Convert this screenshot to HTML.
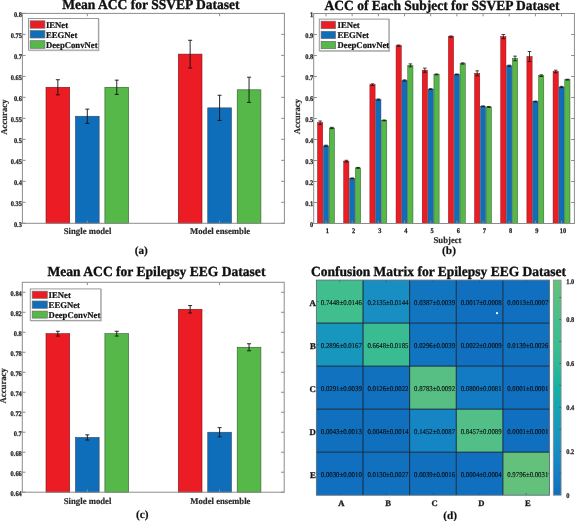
<!DOCTYPE html>
<html><head><meta charset="utf-8"><title>Figure</title>
<style>
html,body{margin:0;padding:0;background:#fff;}
body{width:575px;height:521px;overflow:hidden;}
svg{display:block;text-rendering:geometricPrecision;font-family:"Liberation Serif","Times New Roman",serif;}
</style></head>
<body>
<svg width="575" height="521" viewBox="0 0 575 521">
<rect width="575" height="521" fill="#fff"/>
<rect x="46.00" y="87.28" width="23.70" height="136.02" fill="#ec1c24" stroke="#7a1418" stroke-width="0.6"/>
<rect x="75.45" y="116.25" width="23.70" height="107.05" fill="#0f6eb9" stroke="#33475a" stroke-width="0.6"/>
<rect x="104.90" y="87.28" width="23.70" height="136.02" fill="#55b848" stroke="#35572f" stroke-width="0.6"/>
<rect x="178.30" y="54.12" width="23.70" height="169.18" fill="#ec1c24" stroke="#7a1418" stroke-width="0.6"/>
<rect x="207.75" y="107.86" width="23.70" height="115.44" fill="#0f6eb9" stroke="#33475a" stroke-width="0.6"/>
<rect x="237.20" y="89.80" width="23.70" height="133.50" fill="#55b848" stroke="#35572f" stroke-width="0.6"/>
<path d="M57.85 79.73V94.84M55.85 79.73H59.85M55.85 94.84H59.85" stroke="#111" stroke-width="0.9" fill="none"/>
<path d="M87.30 109.11V123.39M85.30 109.11H89.30M85.30 123.39H89.30" stroke="#111" stroke-width="0.9" fill="none"/>
<path d="M116.75 80.15V94.42M114.75 80.15H118.75M114.75 94.42H118.75" stroke="#111" stroke-width="0.9" fill="none"/>
<path d="M190.15 40.27V67.97M188.15 40.27H192.15M188.15 67.97H192.15" stroke="#111" stroke-width="0.9" fill="none"/>
<path d="M219.60 95.26V120.45M217.60 95.26H221.60M217.60 120.45H221.60" stroke="#111" stroke-width="0.9" fill="none"/>
<path d="M249.05 77.21V102.40M247.05 77.21H251.05M247.05 102.40H251.05" stroke="#111" stroke-width="0.9" fill="none"/>
<rect x="22.40" y="13.40" width="262.00" height="209.90" fill="none" stroke="#8c8c8c" stroke-width="1"/>
<line x1="22.40" y1="223.30" x2="25.60" y2="223.30" stroke="#8c8c8c" stroke-width="1.0"/>
<line x1="284.40" y1="223.30" x2="281.20" y2="223.30" stroke="#8c8c8c" stroke-width="1.0"/>
<text x="21.90" y="226.60" font-size="7.1" text-anchor="end" font-weight="bold" fill="#262626" stroke="#262626" stroke-width="0.25" textLength="8.00" lengthAdjust="spacingAndGlyphs" >0.3</text>
<line x1="22.40" y1="202.31" x2="25.60" y2="202.31" stroke="#8c8c8c" stroke-width="1.0"/>
<line x1="284.40" y1="202.31" x2="281.20" y2="202.31" stroke="#8c8c8c" stroke-width="1.0"/>
<text x="21.90" y="205.61" font-size="7.1" text-anchor="end" font-weight="bold" fill="#262626" stroke="#262626" stroke-width="0.25" textLength="11.20" lengthAdjust="spacingAndGlyphs" >0.35</text>
<line x1="22.40" y1="181.32" x2="25.60" y2="181.32" stroke="#8c8c8c" stroke-width="1.0"/>
<line x1="284.40" y1="181.32" x2="281.20" y2="181.32" stroke="#8c8c8c" stroke-width="1.0"/>
<text x="21.90" y="184.62" font-size="7.1" text-anchor="end" font-weight="bold" fill="#262626" stroke="#262626" stroke-width="0.25" textLength="8.00" lengthAdjust="spacingAndGlyphs" >0.4</text>
<line x1="22.40" y1="160.33" x2="25.60" y2="160.33" stroke="#8c8c8c" stroke-width="1.0"/>
<line x1="284.40" y1="160.33" x2="281.20" y2="160.33" stroke="#8c8c8c" stroke-width="1.0"/>
<text x="21.90" y="163.63" font-size="7.1" text-anchor="end" font-weight="bold" fill="#262626" stroke="#262626" stroke-width="0.25" textLength="11.20" lengthAdjust="spacingAndGlyphs" >0.45</text>
<line x1="22.40" y1="139.34" x2="25.60" y2="139.34" stroke="#8c8c8c" stroke-width="1.0"/>
<line x1="284.40" y1="139.34" x2="281.20" y2="139.34" stroke="#8c8c8c" stroke-width="1.0"/>
<text x="21.90" y="142.64" font-size="7.1" text-anchor="end" font-weight="bold" fill="#262626" stroke="#262626" stroke-width="0.25" textLength="8.00" lengthAdjust="spacingAndGlyphs" >0.5</text>
<line x1="22.40" y1="118.35" x2="25.60" y2="118.35" stroke="#8c8c8c" stroke-width="1.0"/>
<line x1="284.40" y1="118.35" x2="281.20" y2="118.35" stroke="#8c8c8c" stroke-width="1.0"/>
<text x="21.90" y="121.65" font-size="7.1" text-anchor="end" font-weight="bold" fill="#262626" stroke="#262626" stroke-width="0.25" textLength="11.20" lengthAdjust="spacingAndGlyphs" >0.55</text>
<line x1="22.40" y1="97.36" x2="25.60" y2="97.36" stroke="#8c8c8c" stroke-width="1.0"/>
<line x1="284.40" y1="97.36" x2="281.20" y2="97.36" stroke="#8c8c8c" stroke-width="1.0"/>
<text x="21.90" y="100.66" font-size="7.1" text-anchor="end" font-weight="bold" fill="#262626" stroke="#262626" stroke-width="0.25" textLength="8.00" lengthAdjust="spacingAndGlyphs" >0.6</text>
<line x1="22.40" y1="76.37" x2="25.60" y2="76.37" stroke="#8c8c8c" stroke-width="1.0"/>
<line x1="284.40" y1="76.37" x2="281.20" y2="76.37" stroke="#8c8c8c" stroke-width="1.0"/>
<text x="21.90" y="79.67" font-size="7.1" text-anchor="end" font-weight="bold" fill="#262626" stroke="#262626" stroke-width="0.25" textLength="11.20" lengthAdjust="spacingAndGlyphs" >0.65</text>
<line x1="22.40" y1="55.38" x2="25.60" y2="55.38" stroke="#8c8c8c" stroke-width="1.0"/>
<line x1="284.40" y1="55.38" x2="281.20" y2="55.38" stroke="#8c8c8c" stroke-width="1.0"/>
<text x="21.90" y="58.68" font-size="7.1" text-anchor="end" font-weight="bold" fill="#262626" stroke="#262626" stroke-width="0.25" textLength="8.00" lengthAdjust="spacingAndGlyphs" >0.7</text>
<line x1="22.40" y1="34.39" x2="25.60" y2="34.39" stroke="#8c8c8c" stroke-width="1.0"/>
<line x1="284.40" y1="34.39" x2="281.20" y2="34.39" stroke="#8c8c8c" stroke-width="1.0"/>
<text x="21.90" y="37.69" font-size="7.1" text-anchor="end" font-weight="bold" fill="#262626" stroke="#262626" stroke-width="0.25" textLength="11.20" lengthAdjust="spacingAndGlyphs" >0.75</text>
<line x1="22.40" y1="13.40" x2="25.60" y2="13.40" stroke="#8c8c8c" stroke-width="1.0"/>
<line x1="284.40" y1="13.40" x2="281.20" y2="13.40" stroke="#8c8c8c" stroke-width="1.0"/>
<text x="21.90" y="16.70" font-size="7.1" text-anchor="end" font-weight="bold" fill="#262626" stroke="#262626" stroke-width="0.25" textLength="8.00" lengthAdjust="spacingAndGlyphs" >0.8</text>
<line x1="87.30" y1="13.40" x2="87.30" y2="16.20" stroke="#8c8c8c" stroke-width="1.0"/>
<line x1="87.30" y1="223.30" x2="87.30" y2="220.50" stroke="#8c8c8c" stroke-width="1.0"/>
<line x1="219.60" y1="13.40" x2="219.60" y2="16.20" stroke="#8c8c8c" stroke-width="1.0"/>
<line x1="219.60" y1="223.30" x2="219.60" y2="220.50" stroke="#8c8c8c" stroke-width="1.0"/>
<text x="150.90" y="9.20" font-size="13.9" text-anchor="middle" font-weight="bold" fill="#111" stroke="#111" stroke-width="0.35" textLength="177.40" lengthAdjust="spacingAndGlyphs" >Mean ACC for SSVEP Dataset</text>
<rect x="29.10" y="19.10" width="69.90" height="31.60" fill="none" stroke="#c8c8c8" stroke-width="1"/>
<rect x="28.50" y="18.50" width="69.90" height="31.60" fill="#fff" stroke="#9a9a9a" stroke-width="1"/>
<rect x="30.10" y="20.80" width="14.80" height="7.40" fill="#ec1c24" stroke="#6a6a6a" stroke-width="0.7"/>
<text x="45.90" y="27.80" font-size="8.9" text-anchor="start" font-weight="bold" fill="#111" stroke="#111" stroke-width="0.2" textLength="22.23" lengthAdjust="spacingAndGlyphs" >IENet</text>
<rect x="30.10" y="30.60" width="14.80" height="7.40" fill="#0f6eb9" stroke="#6a6a6a" stroke-width="0.7"/>
<text x="45.90" y="37.80" font-size="8.9" text-anchor="start" font-weight="bold" fill="#111" stroke="#111" stroke-width="0.2" textLength="31.41" lengthAdjust="spacingAndGlyphs" >EEGNet</text>
<rect x="30.10" y="40.70" width="14.80" height="7.60" fill="#55b848" stroke="#6a6a6a" stroke-width="0.7"/>
<text x="45.90" y="47.80" font-size="8.9" text-anchor="start" font-weight="bold" fill="#111" stroke="#111" stroke-width="0.2" textLength="51.71" lengthAdjust="spacingAndGlyphs" >DeepConvNet</text>
<text x="87.60" y="233.70" font-size="8.9" text-anchor="middle" font-weight="bold" fill="#2a2a2a" stroke="#2a2a2a" stroke-width="0.18" textLength="47.61" lengthAdjust="spacingAndGlyphs" >Single model</text>
<text x="220.10" y="233.70" font-size="8.9" text-anchor="middle" font-weight="bold" fill="#2a2a2a" stroke="#2a2a2a" stroke-width="0.18" textLength="60.17" lengthAdjust="spacingAndGlyphs" >Model ensemble</text>
<text x="6.90" y="117.10" font-size="8.9" text-anchor="middle" font-weight="bold" fill="#2a2a2a" stroke="#2a2a2a" stroke-width="0.18" textLength="35.27" lengthAdjust="spacingAndGlyphs" transform="rotate(-90 6.9 117.1)">Accuracy</text>
<text x="141.30" y="253.90" font-size="11.2" text-anchor="middle" font-weight="bold" fill="#111" stroke="#111" stroke-width="0.2" textLength="13.18" lengthAdjust="spacingAndGlyphs" >(a)</text>
<rect x="46.00" y="333.68" width="23.70" height="158.52" fill="#ec1c24" stroke="#7a1418" stroke-width="0.6"/>
<rect x="75.45" y="437.43" width="23.70" height="54.77" fill="#0f6eb9" stroke="#33475a" stroke-width="0.6"/>
<rect x="104.90" y="333.68" width="23.70" height="158.52" fill="#55b848" stroke="#35572f" stroke-width="0.6"/>
<rect x="178.30" y="309.29" width="23.70" height="182.91" fill="#ec1c24" stroke="#7a1418" stroke-width="0.6"/>
<rect x="207.75" y="432.23" width="23.70" height="59.97" fill="#0f6eb9" stroke="#33475a" stroke-width="0.6"/>
<rect x="237.20" y="347.27" width="23.70" height="144.93" fill="#55b848" stroke="#35572f" stroke-width="0.6"/>
<path d="M57.85 331.28V336.07M55.85 331.28H59.85M55.85 336.07H59.85" stroke="#111" stroke-width="0.9" fill="none"/>
<path d="M87.30 434.83V440.02M85.30 434.83H89.30M85.30 440.02H89.30" stroke="#111" stroke-width="0.9" fill="none"/>
<path d="M116.75 331.28V336.07M114.75 331.28H118.75M114.75 336.07H118.75" stroke="#111" stroke-width="0.9" fill="none"/>
<path d="M190.15 305.59V312.99M188.15 305.59H192.15M188.15 312.99H192.15" stroke="#111" stroke-width="0.9" fill="none"/>
<path d="M219.60 427.63V436.83M217.60 427.63H221.60M217.60 436.83H221.60" stroke="#111" stroke-width="0.9" fill="none"/>
<path d="M249.05 343.77V350.77M247.05 343.77H251.05M247.05 350.77H251.05" stroke="#111" stroke-width="0.9" fill="none"/>
<rect x="22.30" y="282.30" width="261.90" height="209.90" fill="none" stroke="#8c8c8c" stroke-width="1"/>
<line x1="22.30" y1="492.20" x2="25.50" y2="492.20" stroke="#8c8c8c" stroke-width="1.0"/>
<line x1="284.20" y1="492.20" x2="281.00" y2="492.20" stroke="#8c8c8c" stroke-width="1.0"/>
<text x="21.80" y="495.50" font-size="7.1" text-anchor="end" font-weight="bold" fill="#262626" stroke="#262626" stroke-width="0.25" textLength="11.20" lengthAdjust="spacingAndGlyphs" >0.64</text>
<line x1="22.30" y1="472.21" x2="25.50" y2="472.21" stroke="#8c8c8c" stroke-width="1.0"/>
<line x1="284.20" y1="472.21" x2="281.00" y2="472.21" stroke="#8c8c8c" stroke-width="1.0"/>
<text x="21.80" y="475.51" font-size="7.1" text-anchor="end" font-weight="bold" fill="#262626" stroke="#262626" stroke-width="0.25" textLength="11.20" lengthAdjust="spacingAndGlyphs" >0.66</text>
<line x1="22.30" y1="452.22" x2="25.50" y2="452.22" stroke="#8c8c8c" stroke-width="1.0"/>
<line x1="284.20" y1="452.22" x2="281.00" y2="452.22" stroke="#8c8c8c" stroke-width="1.0"/>
<text x="21.80" y="455.52" font-size="7.1" text-anchor="end" font-weight="bold" fill="#262626" stroke="#262626" stroke-width="0.25" textLength="11.20" lengthAdjust="spacingAndGlyphs" >0.68</text>
<line x1="22.30" y1="432.23" x2="25.50" y2="432.23" stroke="#8c8c8c" stroke-width="1.0"/>
<line x1="284.20" y1="432.23" x2="281.00" y2="432.23" stroke="#8c8c8c" stroke-width="1.0"/>
<text x="21.80" y="435.53" font-size="7.1" text-anchor="end" font-weight="bold" fill="#262626" stroke="#262626" stroke-width="0.25" textLength="8.00" lengthAdjust="spacingAndGlyphs" >0.7</text>
<line x1="22.30" y1="412.24" x2="25.50" y2="412.24" stroke="#8c8c8c" stroke-width="1.0"/>
<line x1="284.20" y1="412.24" x2="281.00" y2="412.24" stroke="#8c8c8c" stroke-width="1.0"/>
<text x="21.80" y="415.54" font-size="7.1" text-anchor="end" font-weight="bold" fill="#262626" stroke="#262626" stroke-width="0.25" textLength="11.20" lengthAdjust="spacingAndGlyphs" >0.72</text>
<line x1="22.30" y1="392.25" x2="25.50" y2="392.25" stroke="#8c8c8c" stroke-width="1.0"/>
<line x1="284.20" y1="392.25" x2="281.00" y2="392.25" stroke="#8c8c8c" stroke-width="1.0"/>
<text x="21.80" y="395.55" font-size="7.1" text-anchor="end" font-weight="bold" fill="#262626" stroke="#262626" stroke-width="0.25" textLength="11.20" lengthAdjust="spacingAndGlyphs" >0.74</text>
<line x1="22.30" y1="372.26" x2="25.50" y2="372.26" stroke="#8c8c8c" stroke-width="1.0"/>
<line x1="284.20" y1="372.26" x2="281.00" y2="372.26" stroke="#8c8c8c" stroke-width="1.0"/>
<text x="21.80" y="375.56" font-size="7.1" text-anchor="end" font-weight="bold" fill="#262626" stroke="#262626" stroke-width="0.25" textLength="11.20" lengthAdjust="spacingAndGlyphs" >0.76</text>
<line x1="22.30" y1="352.27" x2="25.50" y2="352.27" stroke="#8c8c8c" stroke-width="1.0"/>
<line x1="284.20" y1="352.27" x2="281.00" y2="352.27" stroke="#8c8c8c" stroke-width="1.0"/>
<text x="21.80" y="355.57" font-size="7.1" text-anchor="end" font-weight="bold" fill="#262626" stroke="#262626" stroke-width="0.25" textLength="11.20" lengthAdjust="spacingAndGlyphs" >0.78</text>
<line x1="22.30" y1="332.28" x2="25.50" y2="332.28" stroke="#8c8c8c" stroke-width="1.0"/>
<line x1="284.20" y1="332.28" x2="281.00" y2="332.28" stroke="#8c8c8c" stroke-width="1.0"/>
<text x="21.80" y="335.58" font-size="7.1" text-anchor="end" font-weight="bold" fill="#262626" stroke="#262626" stroke-width="0.25" textLength="8.00" lengthAdjust="spacingAndGlyphs" >0.8</text>
<line x1="22.30" y1="312.29" x2="25.50" y2="312.29" stroke="#8c8c8c" stroke-width="1.0"/>
<line x1="284.20" y1="312.29" x2="281.00" y2="312.29" stroke="#8c8c8c" stroke-width="1.0"/>
<text x="21.80" y="315.59" font-size="7.1" text-anchor="end" font-weight="bold" fill="#262626" stroke="#262626" stroke-width="0.25" textLength="11.20" lengthAdjust="spacingAndGlyphs" >0.82</text>
<line x1="22.30" y1="292.30" x2="25.50" y2="292.30" stroke="#8c8c8c" stroke-width="1.0"/>
<line x1="284.20" y1="292.30" x2="281.00" y2="292.30" stroke="#8c8c8c" stroke-width="1.0"/>
<text x="21.80" y="295.60" font-size="7.1" text-anchor="end" font-weight="bold" fill="#262626" stroke="#262626" stroke-width="0.25" textLength="11.20" lengthAdjust="spacingAndGlyphs" >0.84</text>
<line x1="87.30" y1="282.30" x2="87.30" y2="285.10" stroke="#8c8c8c" stroke-width="1.0"/>
<line x1="87.30" y1="492.20" x2="87.30" y2="489.40" stroke="#8c8c8c" stroke-width="1.0"/>
<line x1="219.60" y1="282.30" x2="219.60" y2="285.10" stroke="#8c8c8c" stroke-width="1.0"/>
<line x1="219.60" y1="492.20" x2="219.60" y2="489.40" stroke="#8c8c8c" stroke-width="1.0"/>
<text x="156.45" y="275.70" font-size="13.9" text-anchor="middle" font-weight="bold" fill="#111" stroke="#111" stroke-width="0.35" textLength="217.90" lengthAdjust="spacingAndGlyphs" >Mean ACC for Epilepsy EEG Dataset</text>
<rect x="30.90" y="289.50" width="70.50" height="31.50" fill="none" stroke="#c8c8c8" stroke-width="1"/>
<rect x="30.30" y="288.90" width="70.50" height="31.50" fill="#fff" stroke="#9a9a9a" stroke-width="1"/>
<rect x="32.20" y="291.20" width="15.10" height="7.10" fill="#ec1c24" stroke="#6a6a6a" stroke-width="0.7"/>
<text x="48.60" y="298.00" font-size="8.9" text-anchor="start" font-weight="bold" fill="#111" stroke="#111" stroke-width="0.2" textLength="22.23" lengthAdjust="spacingAndGlyphs" >IENet</text>
<rect x="32.20" y="301.00" width="15.10" height="7.30" fill="#0f6eb9" stroke="#6a6a6a" stroke-width="0.7"/>
<text x="48.60" y="307.90" font-size="8.9" text-anchor="start" font-weight="bold" fill="#111" stroke="#111" stroke-width="0.2" textLength="31.41" lengthAdjust="spacingAndGlyphs" >EEGNet</text>
<rect x="32.20" y="311.10" width="15.10" height="7.00" fill="#55b848" stroke="#6a6a6a" stroke-width="0.7"/>
<text x="48.60" y="317.80" font-size="8.9" text-anchor="start" font-weight="bold" fill="#111" stroke="#111" stroke-width="0.2" textLength="51.71" lengthAdjust="spacingAndGlyphs" >DeepConvNet</text>
<text x="87.60" y="504.00" font-size="8.9" text-anchor="middle" font-weight="bold" fill="#2a2a2a" stroke="#2a2a2a" stroke-width="0.18" textLength="47.61" lengthAdjust="spacingAndGlyphs" >Single model</text>
<text x="220.40" y="504.00" font-size="8.9" text-anchor="middle" font-weight="bold" fill="#2a2a2a" stroke="#2a2a2a" stroke-width="0.18" textLength="60.17" lengthAdjust="spacingAndGlyphs" >Model ensemble</text>
<text x="6.10" y="385.80" font-size="8.9" text-anchor="middle" font-weight="bold" fill="#2a2a2a" stroke="#2a2a2a" stroke-width="0.18" textLength="35.27" lengthAdjust="spacingAndGlyphs" transform="rotate(-90 6.1 385.8)">Accuracy</text>
<text x="142.20" y="518.30" font-size="11.2" text-anchor="middle" font-weight="bold" fill="#111" stroke="#111" stroke-width="0.2" textLength="12.54" lengthAdjust="spacingAndGlyphs" >(c)</text>
<rect x="317.55" y="122.70" width="5.20" height="100.80" fill="#ec1c24" stroke="#7a1418" stroke-width="0.5"/>
<rect x="323.40" y="145.80" width="5.20" height="77.70" fill="#0f6eb9" stroke="#33475a" stroke-width="0.5"/>
<rect x="329.25" y="127.95" width="5.20" height="95.55" fill="#55b848" stroke="#35572f" stroke-width="0.5"/>
<rect x="343.72" y="161.13" width="5.20" height="62.37" fill="#ec1c24" stroke="#7a1418" stroke-width="0.5"/>
<rect x="349.57" y="178.35" width="5.20" height="45.15" fill="#0f6eb9" stroke="#33475a" stroke-width="0.5"/>
<rect x="355.42" y="167.85" width="5.20" height="55.65" fill="#55b848" stroke="#35572f" stroke-width="0.5"/>
<rect x="369.89" y="84.69" width="5.20" height="138.81" fill="#ec1c24" stroke="#7a1418" stroke-width="0.5"/>
<rect x="375.74" y="99.60" width="5.20" height="123.90" fill="#0f6eb9" stroke="#33475a" stroke-width="0.5"/>
<rect x="381.59" y="120.39" width="5.20" height="103.11" fill="#55b848" stroke="#35572f" stroke-width="0.5"/>
<rect x="396.06" y="45.63" width="5.20" height="177.87" fill="#ec1c24" stroke="#7a1418" stroke-width="0.5"/>
<rect x="401.91" y="80.49" width="5.20" height="143.01" fill="#0f6eb9" stroke="#33475a" stroke-width="0.5"/>
<rect x="407.76" y="65.37" width="5.20" height="158.13" fill="#55b848" stroke="#35572f" stroke-width="0.5"/>
<rect x="422.23" y="70.20" width="5.20" height="153.30" fill="#ec1c24" stroke="#7a1418" stroke-width="0.5"/>
<rect x="428.08" y="89.10" width="5.20" height="134.40" fill="#0f6eb9" stroke="#33475a" stroke-width="0.5"/>
<rect x="433.93" y="74.40" width="5.20" height="149.10" fill="#55b848" stroke="#35572f" stroke-width="0.5"/>
<rect x="448.40" y="36.60" width="5.20" height="186.90" fill="#ec1c24" stroke="#7a1418" stroke-width="0.5"/>
<rect x="454.25" y="74.40" width="5.20" height="149.10" fill="#0f6eb9" stroke="#33475a" stroke-width="0.5"/>
<rect x="460.10" y="63.48" width="5.20" height="160.02" fill="#55b848" stroke="#35572f" stroke-width="0.5"/>
<rect x="474.57" y="73.35" width="5.20" height="150.15" fill="#ec1c24" stroke="#7a1418" stroke-width="0.5"/>
<rect x="480.42" y="106.32" width="5.20" height="117.18" fill="#0f6eb9" stroke="#33475a" stroke-width="0.5"/>
<rect x="486.27" y="106.95" width="5.20" height="116.55" fill="#55b848" stroke="#35572f" stroke-width="0.5"/>
<rect x="500.74" y="36.60" width="5.20" height="186.90" fill="#ec1c24" stroke="#7a1418" stroke-width="0.5"/>
<rect x="506.59" y="65.79" width="5.20" height="157.71" fill="#0f6eb9" stroke="#33475a" stroke-width="0.5"/>
<rect x="512.44" y="58.44" width="5.20" height="165.06" fill="#55b848" stroke="#35572f" stroke-width="0.5"/>
<rect x="526.91" y="56.55" width="5.20" height="166.95" fill="#ec1c24" stroke="#7a1418" stroke-width="0.5"/>
<rect x="532.76" y="101.49" width="5.20" height="122.01" fill="#0f6eb9" stroke="#33475a" stroke-width="0.5"/>
<rect x="538.61" y="75.66" width="5.20" height="147.84" fill="#55b848" stroke="#35572f" stroke-width="0.5"/>
<rect x="553.08" y="71.46" width="5.20" height="152.04" fill="#ec1c24" stroke="#7a1418" stroke-width="0.5"/>
<rect x="558.93" y="87.00" width="5.20" height="136.50" fill="#0f6eb9" stroke="#33475a" stroke-width="0.5"/>
<rect x="564.78" y="79.65" width="5.20" height="143.85" fill="#55b848" stroke="#35572f" stroke-width="0.5"/>
<path d="M320.15 121.02V124.38M318.35 121.02H321.95M318.35 124.38H321.95" stroke="#111" stroke-width="0.8" fill="none"/>
<path d="M326.00 145.17V146.43M324.20 145.17H327.80M324.20 146.43H327.80" stroke="#111" stroke-width="0.8" fill="none"/>
<path d="M331.85 127.32V128.58M330.05 127.32H333.65M330.05 128.58H333.65" stroke="#111" stroke-width="0.8" fill="none"/>
<path d="M346.32 160.29V161.97M344.52 160.29H348.12M344.52 161.97H348.12" stroke="#111" stroke-width="0.8" fill="none"/>
<path d="M352.17 177.93V178.77M350.37 177.93H353.97M350.37 178.77H353.97" stroke="#111" stroke-width="0.8" fill="none"/>
<path d="M358.02 167.43V168.27M356.22 167.43H359.82M356.22 168.27H359.82" stroke="#111" stroke-width="0.8" fill="none"/>
<path d="M372.49 83.85V85.53M370.69 83.85H374.29M370.69 85.53H374.29" stroke="#111" stroke-width="0.8" fill="none"/>
<path d="M378.34 98.97V100.23M376.54 98.97H380.14M376.54 100.23H380.14" stroke="#111" stroke-width="0.8" fill="none"/>
<path d="M384.19 119.97V120.81M382.39 119.97H385.99M382.39 120.81H385.99" stroke="#111" stroke-width="0.8" fill="none"/>
<path d="M398.66 45.00V46.26M396.86 45.00H400.46M396.86 46.26H400.46" stroke="#111" stroke-width="0.8" fill="none"/>
<path d="M404.51 79.86V81.12M402.71 79.86H406.31M402.71 81.12H406.31" stroke="#111" stroke-width="0.8" fill="none"/>
<path d="M410.36 63.90V66.84M408.56 63.90H412.16M408.56 66.84H412.16" stroke="#111" stroke-width="0.8" fill="none"/>
<path d="M424.83 68.10V72.30M423.03 68.10H426.63M423.03 72.30H426.63" stroke="#111" stroke-width="0.8" fill="none"/>
<path d="M430.68 88.68V89.52M428.88 88.68H432.48M428.88 89.52H432.48" stroke="#111" stroke-width="0.8" fill="none"/>
<path d="M436.53 73.98V74.82M434.73 73.98H438.33M434.73 74.82H438.33" stroke="#111" stroke-width="0.8" fill="none"/>
<path d="M451.00 35.97V37.23M449.20 35.97H452.80M449.20 37.23H452.80" stroke="#111" stroke-width="0.8" fill="none"/>
<path d="M456.85 73.98V74.82M455.05 73.98H458.65M455.05 74.82H458.65" stroke="#111" stroke-width="0.8" fill="none"/>
<path d="M462.70 62.85V64.11M460.90 62.85H464.50M460.90 64.11H464.50" stroke="#111" stroke-width="0.8" fill="none"/>
<path d="M477.17 70.83V75.87M475.37 70.83H478.97M475.37 75.87H478.97" stroke="#111" stroke-width="0.8" fill="none"/>
<path d="M483.02 105.90V106.74M481.22 105.90H484.82M481.22 106.74H484.82" stroke="#111" stroke-width="0.8" fill="none"/>
<path d="M488.87 106.53V107.37M487.07 106.53H490.67M487.07 107.37H490.67" stroke="#111" stroke-width="0.8" fill="none"/>
<path d="M503.34 34.50V38.70M501.54 34.50H505.14M501.54 38.70H505.14" stroke="#111" stroke-width="0.8" fill="none"/>
<path d="M509.19 65.16V66.42M507.39 65.16H510.99M507.39 66.42H510.99" stroke="#111" stroke-width="0.8" fill="none"/>
<path d="M515.04 56.13V60.75M513.24 56.13H516.84M513.24 60.75H516.84" stroke="#111" stroke-width="0.8" fill="none"/>
<path d="M529.51 51.51V61.59M527.71 51.51H531.31M527.71 61.59H531.31" stroke="#111" stroke-width="0.8" fill="none"/>
<path d="M535.36 101.07V101.91M533.56 101.07H537.16M533.56 101.91H537.16" stroke="#111" stroke-width="0.8" fill="none"/>
<path d="M541.21 74.82V76.50M539.41 74.82H543.01M539.41 76.50H543.01" stroke="#111" stroke-width="0.8" fill="none"/>
<path d="M555.68 70.20V72.72M553.88 70.20H557.48M553.88 72.72H557.48" stroke="#111" stroke-width="0.8" fill="none"/>
<path d="M561.53 86.37V87.63M559.73 86.37H563.33M559.73 87.63H563.33" stroke="#111" stroke-width="0.8" fill="none"/>
<path d="M567.38 79.23V80.07M565.58 79.23H569.18M565.58 80.07H569.18" stroke="#111" stroke-width="0.8" fill="none"/>
<rect x="313.70" y="13.50" width="260.70" height="210.00" fill="none" stroke="#8c8c8c" stroke-width="1"/>
<line x1="313.70" y1="223.50" x2="316.90" y2="223.50" stroke="#8c8c8c" stroke-width="1.0"/>
<line x1="574.40" y1="223.50" x2="571.20" y2="223.50" stroke="#8c8c8c" stroke-width="1.0"/>
<text x="313.20" y="226.80" font-size="7.1" text-anchor="end" font-weight="bold" fill="#262626" stroke="#262626" stroke-width="0.25" textLength="3.20" lengthAdjust="spacingAndGlyphs" >0</text>
<line x1="313.70" y1="202.50" x2="316.90" y2="202.50" stroke="#8c8c8c" stroke-width="1.0"/>
<line x1="574.40" y1="202.50" x2="571.20" y2="202.50" stroke="#8c8c8c" stroke-width="1.0"/>
<text x="313.20" y="205.80" font-size="7.1" text-anchor="end" font-weight="bold" fill="#262626" stroke="#262626" stroke-width="0.25" textLength="8.00" lengthAdjust="spacingAndGlyphs" >0.1</text>
<line x1="313.70" y1="181.50" x2="316.90" y2="181.50" stroke="#8c8c8c" stroke-width="1.0"/>
<line x1="574.40" y1="181.50" x2="571.20" y2="181.50" stroke="#8c8c8c" stroke-width="1.0"/>
<text x="313.20" y="184.80" font-size="7.1" text-anchor="end" font-weight="bold" fill="#262626" stroke="#262626" stroke-width="0.25" textLength="8.00" lengthAdjust="spacingAndGlyphs" >0.2</text>
<line x1="313.70" y1="160.50" x2="316.90" y2="160.50" stroke="#8c8c8c" stroke-width="1.0"/>
<line x1="574.40" y1="160.50" x2="571.20" y2="160.50" stroke="#8c8c8c" stroke-width="1.0"/>
<text x="313.20" y="163.80" font-size="7.1" text-anchor="end" font-weight="bold" fill="#262626" stroke="#262626" stroke-width="0.25" textLength="8.00" lengthAdjust="spacingAndGlyphs" >0.3</text>
<line x1="313.70" y1="139.50" x2="316.90" y2="139.50" stroke="#8c8c8c" stroke-width="1.0"/>
<line x1="574.40" y1="139.50" x2="571.20" y2="139.50" stroke="#8c8c8c" stroke-width="1.0"/>
<text x="313.20" y="142.80" font-size="7.1" text-anchor="end" font-weight="bold" fill="#262626" stroke="#262626" stroke-width="0.25" textLength="8.00" lengthAdjust="spacingAndGlyphs" >0.4</text>
<line x1="313.70" y1="118.50" x2="316.90" y2="118.50" stroke="#8c8c8c" stroke-width="1.0"/>
<line x1="574.40" y1="118.50" x2="571.20" y2="118.50" stroke="#8c8c8c" stroke-width="1.0"/>
<text x="313.20" y="121.80" font-size="7.1" text-anchor="end" font-weight="bold" fill="#262626" stroke="#262626" stroke-width="0.25" textLength="8.00" lengthAdjust="spacingAndGlyphs" >0.5</text>
<line x1="313.70" y1="97.50" x2="316.90" y2="97.50" stroke="#8c8c8c" stroke-width="1.0"/>
<line x1="574.40" y1="97.50" x2="571.20" y2="97.50" stroke="#8c8c8c" stroke-width="1.0"/>
<text x="313.20" y="100.80" font-size="7.1" text-anchor="end" font-weight="bold" fill="#262626" stroke="#262626" stroke-width="0.25" textLength="8.00" lengthAdjust="spacingAndGlyphs" >0.6</text>
<line x1="313.70" y1="76.50" x2="316.90" y2="76.50" stroke="#8c8c8c" stroke-width="1.0"/>
<line x1="574.40" y1="76.50" x2="571.20" y2="76.50" stroke="#8c8c8c" stroke-width="1.0"/>
<text x="313.20" y="79.80" font-size="7.1" text-anchor="end" font-weight="bold" fill="#262626" stroke="#262626" stroke-width="0.25" textLength="8.00" lengthAdjust="spacingAndGlyphs" >0.7</text>
<line x1="313.70" y1="55.50" x2="316.90" y2="55.50" stroke="#8c8c8c" stroke-width="1.0"/>
<line x1="574.40" y1="55.50" x2="571.20" y2="55.50" stroke="#8c8c8c" stroke-width="1.0"/>
<text x="313.20" y="58.80" font-size="7.1" text-anchor="end" font-weight="bold" fill="#262626" stroke="#262626" stroke-width="0.25" textLength="8.00" lengthAdjust="spacingAndGlyphs" >0.8</text>
<line x1="313.70" y1="34.50" x2="316.90" y2="34.50" stroke="#8c8c8c" stroke-width="1.0"/>
<line x1="574.40" y1="34.50" x2="571.20" y2="34.50" stroke="#8c8c8c" stroke-width="1.0"/>
<text x="313.20" y="37.80" font-size="7.1" text-anchor="end" font-weight="bold" fill="#262626" stroke="#262626" stroke-width="0.25" textLength="8.00" lengthAdjust="spacingAndGlyphs" >0.9</text>
<line x1="313.70" y1="13.50" x2="316.90" y2="13.50" stroke="#8c8c8c" stroke-width="1.0"/>
<line x1="574.40" y1="13.50" x2="571.20" y2="13.50" stroke="#8c8c8c" stroke-width="1.0"/>
<text x="313.20" y="16.80" font-size="7.1" text-anchor="end" font-weight="bold" fill="#262626" stroke="#262626" stroke-width="0.25" textLength="3.20" lengthAdjust="spacingAndGlyphs" >1</text>
<line x1="326.00" y1="13.50" x2="326.00" y2="16.30" stroke="#8c8c8c" stroke-width="1.0"/>
<line x1="326.00" y1="223.50" x2="326.00" y2="220.70" stroke="#8c8c8c" stroke-width="1.0"/>
<text x="327.40" y="232.80" font-size="7.1" text-anchor="middle" font-weight="bold" fill="#262626" stroke="#262626" stroke-width="0.25" textLength="3.20" lengthAdjust="spacingAndGlyphs" >1</text>
<line x1="352.17" y1="13.50" x2="352.17" y2="16.30" stroke="#8c8c8c" stroke-width="1.0"/>
<line x1="352.17" y1="223.50" x2="352.17" y2="220.70" stroke="#8c8c8c" stroke-width="1.0"/>
<text x="353.57" y="232.80" font-size="7.1" text-anchor="middle" font-weight="bold" fill="#262626" stroke="#262626" stroke-width="0.25" textLength="3.20" lengthAdjust="spacingAndGlyphs" >2</text>
<line x1="378.34" y1="13.50" x2="378.34" y2="16.30" stroke="#8c8c8c" stroke-width="1.0"/>
<line x1="378.34" y1="223.50" x2="378.34" y2="220.70" stroke="#8c8c8c" stroke-width="1.0"/>
<text x="379.74" y="232.80" font-size="7.1" text-anchor="middle" font-weight="bold" fill="#262626" stroke="#262626" stroke-width="0.25" textLength="3.20" lengthAdjust="spacingAndGlyphs" >3</text>
<line x1="404.51" y1="13.50" x2="404.51" y2="16.30" stroke="#8c8c8c" stroke-width="1.0"/>
<line x1="404.51" y1="223.50" x2="404.51" y2="220.70" stroke="#8c8c8c" stroke-width="1.0"/>
<text x="405.91" y="232.80" font-size="7.1" text-anchor="middle" font-weight="bold" fill="#262626" stroke="#262626" stroke-width="0.25" textLength="3.20" lengthAdjust="spacingAndGlyphs" >4</text>
<line x1="430.68" y1="13.50" x2="430.68" y2="16.30" stroke="#8c8c8c" stroke-width="1.0"/>
<line x1="430.68" y1="223.50" x2="430.68" y2="220.70" stroke="#8c8c8c" stroke-width="1.0"/>
<text x="432.08" y="232.80" font-size="7.1" text-anchor="middle" font-weight="bold" fill="#262626" stroke="#262626" stroke-width="0.25" textLength="3.20" lengthAdjust="spacingAndGlyphs" >5</text>
<line x1="456.85" y1="13.50" x2="456.85" y2="16.30" stroke="#8c8c8c" stroke-width="1.0"/>
<line x1="456.85" y1="223.50" x2="456.85" y2="220.70" stroke="#8c8c8c" stroke-width="1.0"/>
<text x="458.25" y="232.80" font-size="7.1" text-anchor="middle" font-weight="bold" fill="#262626" stroke="#262626" stroke-width="0.25" textLength="3.20" lengthAdjust="spacingAndGlyphs" >6</text>
<line x1="483.02" y1="13.50" x2="483.02" y2="16.30" stroke="#8c8c8c" stroke-width="1.0"/>
<line x1="483.02" y1="223.50" x2="483.02" y2="220.70" stroke="#8c8c8c" stroke-width="1.0"/>
<text x="484.42" y="232.80" font-size="7.1" text-anchor="middle" font-weight="bold" fill="#262626" stroke="#262626" stroke-width="0.25" textLength="3.20" lengthAdjust="spacingAndGlyphs" >7</text>
<line x1="509.19" y1="13.50" x2="509.19" y2="16.30" stroke="#8c8c8c" stroke-width="1.0"/>
<line x1="509.19" y1="223.50" x2="509.19" y2="220.70" stroke="#8c8c8c" stroke-width="1.0"/>
<text x="510.59" y="232.80" font-size="7.1" text-anchor="middle" font-weight="bold" fill="#262626" stroke="#262626" stroke-width="0.25" textLength="3.20" lengthAdjust="spacingAndGlyphs" >8</text>
<line x1="535.36" y1="13.50" x2="535.36" y2="16.30" stroke="#8c8c8c" stroke-width="1.0"/>
<line x1="535.36" y1="223.50" x2="535.36" y2="220.70" stroke="#8c8c8c" stroke-width="1.0"/>
<text x="536.76" y="232.80" font-size="7.1" text-anchor="middle" font-weight="bold" fill="#262626" stroke="#262626" stroke-width="0.25" textLength="3.20" lengthAdjust="spacingAndGlyphs" >9</text>
<line x1="561.53" y1="13.50" x2="561.53" y2="16.30" stroke="#8c8c8c" stroke-width="1.0"/>
<line x1="561.53" y1="223.50" x2="561.53" y2="220.70" stroke="#8c8c8c" stroke-width="1.0"/>
<text x="562.93" y="232.80" font-size="7.1" text-anchor="middle" font-weight="bold" fill="#262626" stroke="#262626" stroke-width="0.25" textLength="6.40" lengthAdjust="spacingAndGlyphs" >10</text>
<text x="442.00" y="9.90" font-size="13.9" text-anchor="middle" font-weight="bold" fill="#111" stroke="#111" stroke-width="0.35" textLength="234.80" lengthAdjust="spacingAndGlyphs" >ACC of Each Subject for SSVEP Dataset</text>
<rect x="319.90" y="19.70" width="69.60" height="31.70" fill="none" stroke="#c8c8c8" stroke-width="1"/>
<rect x="319.30" y="19.10" width="69.60" height="31.70" fill="#fff" stroke="#9a9a9a" stroke-width="1"/>
<rect x="321.10" y="21.20" width="14.40" height="7.50" fill="#ec1c24" stroke="#6a6a6a" stroke-width="0.7"/>
<text x="337.50" y="28.20" font-size="8.9" text-anchor="start" font-weight="bold" fill="#111" stroke="#111" stroke-width="0.2" textLength="22.23" lengthAdjust="spacingAndGlyphs" >IENet</text>
<rect x="321.10" y="31.30" width="14.40" height="7.30" fill="#0f6eb9" stroke="#6a6a6a" stroke-width="0.7"/>
<text x="337.50" y="38.20" font-size="8.9" text-anchor="start" font-weight="bold" fill="#111" stroke="#111" stroke-width="0.2" textLength="31.41" lengthAdjust="spacingAndGlyphs" >EEGNet</text>
<rect x="321.10" y="41.40" width="14.40" height="7.30" fill="#55b848" stroke="#6a6a6a" stroke-width="0.7"/>
<text x="337.50" y="48.20" font-size="8.9" text-anchor="start" font-weight="bold" fill="#111" stroke="#111" stroke-width="0.2" textLength="51.71" lengthAdjust="spacingAndGlyphs" >DeepConvNet</text>
<text x="447.50" y="242.70" font-size="8.9" text-anchor="middle" font-weight="bold" fill="#2a2a2a" stroke="#2a2a2a" stroke-width="0.18" textLength="28.03" lengthAdjust="spacingAndGlyphs" >Subject</text>
<text x="300.40" y="116.60" font-size="8.9" text-anchor="middle" font-weight="bold" fill="#2a2a2a" stroke="#2a2a2a" stroke-width="0.18" textLength="35.27" lengthAdjust="spacingAndGlyphs" transform="rotate(-90 300.4 116.6)">Accuracy</text>
<text x="449.00" y="253.90" font-size="11.2" text-anchor="middle" font-weight="bold" fill="#111" stroke="#111" stroke-width="0.2" textLength="13.81" lengthAdjust="spacingAndGlyphs" >(b)</text>
<rect x="316.40" y="280.10" width="46.62" height="43.02" fill="#41be8e" stroke="none" stroke-width="0.6"/>
<rect x="363.02" y="280.10" width="46.62" height="43.02" fill="#188ec3" stroke="none" stroke-width="0.6"/>
<rect x="409.64" y="280.10" width="46.62" height="43.02" fill="#1275c0" stroke="none" stroke-width="0.6"/>
<rect x="456.26" y="280.10" width="46.62" height="43.02" fill="#106fbe" stroke="none" stroke-width="0.6"/>
<rect x="502.88" y="280.10" width="46.62" height="43.02" fill="#106fbe" stroke="none" stroke-width="0.6"/>
<rect x="316.40" y="323.12" width="46.62" height="43.02" fill="#1897be" stroke="none" stroke-width="0.6"/>
<rect x="363.02" y="323.12" width="46.62" height="43.02" fill="#39bc92" stroke="none" stroke-width="0.6"/>
<rect x="409.64" y="323.12" width="46.62" height="43.02" fill="#1174c0" stroke="none" stroke-width="0.6"/>
<rect x="456.26" y="323.12" width="46.62" height="43.02" fill="#106fbe" stroke="none" stroke-width="0.6"/>
<rect x="502.88" y="323.12" width="46.62" height="43.02" fill="#1171bf" stroke="none" stroke-width="0.6"/>
<rect x="316.40" y="366.14" width="46.62" height="43.02" fill="#1173c0" stroke="none" stroke-width="0.6"/>
<rect x="363.02" y="366.14" width="46.62" height="43.02" fill="#1171bf" stroke="none" stroke-width="0.6"/>
<rect x="409.64" y="366.14" width="46.62" height="43.02" fill="#57bf84" stroke="none" stroke-width="0.6"/>
<rect x="456.26" y="366.14" width="46.62" height="43.02" fill="#137bc3" stroke="none" stroke-width="0.6"/>
<rect x="502.88" y="366.14" width="46.62" height="43.02" fill="#106fbe" stroke="none" stroke-width="0.6"/>
<rect x="316.40" y="409.16" width="46.62" height="43.02" fill="#1070be" stroke="none" stroke-width="0.6"/>
<rect x="363.02" y="409.16" width="46.62" height="43.02" fill="#1070be" stroke="none" stroke-width="0.6"/>
<rect x="409.64" y="409.16" width="46.62" height="43.02" fill="#1685c4" stroke="none" stroke-width="0.6"/>
<rect x="456.26" y="409.16" width="46.62" height="43.02" fill="#51bf87" stroke="none" stroke-width="0.6"/>
<rect x="502.88" y="409.16" width="46.62" height="43.02" fill="#106fbe" stroke="none" stroke-width="0.6"/>
<rect x="316.40" y="452.18" width="46.62" height="43.02" fill="#106fbe" stroke="none" stroke-width="0.6"/>
<rect x="363.02" y="452.18" width="46.62" height="43.02" fill="#1171bf" stroke="none" stroke-width="0.6"/>
<rect x="409.64" y="452.18" width="46.62" height="43.02" fill="#1070be" stroke="none" stroke-width="0.6"/>
<rect x="456.26" y="452.18" width="46.62" height="43.02" fill="#106fbe" stroke="none" stroke-width="0.6"/>
<rect x="502.88" y="452.18" width="46.62" height="43.02" fill="#64c17c" stroke="none" stroke-width="0.6"/>
<line x1="363.02" y1="280.10" x2="363.02" y2="495.20" stroke="#15283d" stroke-width="1.0"/>
<line x1="316.40" y1="323.12" x2="549.50" y2="323.12" stroke="#15283d" stroke-width="1.0"/>
<line x1="409.64" y1="280.10" x2="409.64" y2="495.20" stroke="#15283d" stroke-width="1.0"/>
<line x1="316.40" y1="366.14" x2="549.50" y2="366.14" stroke="#15283d" stroke-width="1.0"/>
<line x1="456.26" y1="280.10" x2="456.26" y2="495.20" stroke="#15283d" stroke-width="1.0"/>
<line x1="316.40" y1="409.16" x2="549.50" y2="409.16" stroke="#15283d" stroke-width="1.0"/>
<line x1="502.88" y1="280.10" x2="502.88" y2="495.20" stroke="#15283d" stroke-width="1.0"/>
<line x1="316.40" y1="452.18" x2="549.50" y2="452.18" stroke="#15283d" stroke-width="1.0"/>
<rect x="316.40" y="280.10" width="233.10" height="215.10" fill="none" stroke="#5d6d7c" stroke-width="0.9"/>
<text x="341.31" y="304.61" font-size="7.4" text-anchor="middle" fill="#0a0a0a" stroke="#0a0a0a" stroke-width="0.12" textLength="41.0" lengthAdjust="spacingAndGlyphs">0.7448±0.0146</text>
<text x="387.93" y="304.61" font-size="7.4" text-anchor="middle" fill="#0a0a0a" stroke="#0a0a0a" stroke-width="0.12" textLength="41.0" lengthAdjust="spacingAndGlyphs">0.2135±0.0144</text>
<text x="434.55" y="304.61" font-size="7.4" text-anchor="middle" fill="#0a0a0a" stroke="#0a0a0a" stroke-width="0.12" textLength="41.0" lengthAdjust="spacingAndGlyphs">0.0387±0.0039</text>
<text x="481.17" y="304.61" font-size="7.4" text-anchor="middle" fill="#0a0a0a" stroke="#0a0a0a" stroke-width="0.12" textLength="41.0" lengthAdjust="spacingAndGlyphs">0.0017±0.0008</text>
<text x="527.79" y="304.61" font-size="7.4" text-anchor="middle" fill="#0a0a0a" stroke="#0a0a0a" stroke-width="0.12" textLength="41.0" lengthAdjust="spacingAndGlyphs">0.0013±0.0007</text>
<text x="341.31" y="347.63" font-size="7.4" text-anchor="middle" fill="#0a0a0a" stroke="#0a0a0a" stroke-width="0.12" textLength="41.0" lengthAdjust="spacingAndGlyphs">0.2896±0.0167</text>
<text x="387.93" y="347.63" font-size="7.4" text-anchor="middle" fill="#0a0a0a" stroke="#0a0a0a" stroke-width="0.12" textLength="41.0" lengthAdjust="spacingAndGlyphs">0.6648±0.0185</text>
<text x="434.55" y="347.63" font-size="7.4" text-anchor="middle" fill="#0a0a0a" stroke="#0a0a0a" stroke-width="0.12" textLength="41.0" lengthAdjust="spacingAndGlyphs">0.0296±0.0039</text>
<text x="481.17" y="347.63" font-size="7.4" text-anchor="middle" fill="#0a0a0a" stroke="#0a0a0a" stroke-width="0.12" textLength="41.0" lengthAdjust="spacingAndGlyphs">0.0022±0.0009</text>
<text x="527.79" y="347.63" font-size="7.4" text-anchor="middle" fill="#0a0a0a" stroke="#0a0a0a" stroke-width="0.12" textLength="41.0" lengthAdjust="spacingAndGlyphs">0.0139±0.0026</text>
<text x="341.31" y="390.65" font-size="7.4" text-anchor="middle" fill="#0a0a0a" stroke="#0a0a0a" stroke-width="0.12" textLength="41.0" lengthAdjust="spacingAndGlyphs">0.0291±0.0039</text>
<text x="387.93" y="390.65" font-size="7.4" text-anchor="middle" fill="#0a0a0a" stroke="#0a0a0a" stroke-width="0.12" textLength="41.0" lengthAdjust="spacingAndGlyphs">0.0126±0.0022</text>
<text x="434.55" y="390.65" font-size="7.4" text-anchor="middle" fill="#0a0a0a" stroke="#0a0a0a" stroke-width="0.12" textLength="41.0" lengthAdjust="spacingAndGlyphs">0.8783±0.0092</text>
<text x="481.17" y="390.65" font-size="7.4" text-anchor="middle" fill="#0a0a0a" stroke="#0a0a0a" stroke-width="0.12" textLength="41.0" lengthAdjust="spacingAndGlyphs">0.0800±0.0081</text>
<text x="527.79" y="390.65" font-size="7.4" text-anchor="middle" fill="#0a0a0a" stroke="#0a0a0a" stroke-width="0.12" textLength="41.0" lengthAdjust="spacingAndGlyphs">0.0001±0.0001</text>
<text x="341.31" y="433.67" font-size="7.4" text-anchor="middle" fill="#0a0a0a" stroke="#0a0a0a" stroke-width="0.12" textLength="41.0" lengthAdjust="spacingAndGlyphs">0.0043±0.0013</text>
<text x="387.93" y="433.67" font-size="7.4" text-anchor="middle" fill="#0a0a0a" stroke="#0a0a0a" stroke-width="0.12" textLength="41.0" lengthAdjust="spacingAndGlyphs">0.0048±0.0014</text>
<text x="434.55" y="433.67" font-size="7.4" text-anchor="middle" fill="#0a0a0a" stroke="#0a0a0a" stroke-width="0.12" textLength="41.0" lengthAdjust="spacingAndGlyphs">0.1452±0.0087</text>
<text x="481.17" y="433.67" font-size="7.4" text-anchor="middle" fill="#0a0a0a" stroke="#0a0a0a" stroke-width="0.12" textLength="41.0" lengthAdjust="spacingAndGlyphs">0.8457±0.0089</text>
<text x="527.79" y="433.67" font-size="7.4" text-anchor="middle" fill="#0a0a0a" stroke="#0a0a0a" stroke-width="0.12" textLength="41.0" lengthAdjust="spacingAndGlyphs">0.0001±0.0001</text>
<text x="341.31" y="476.69" font-size="7.4" text-anchor="middle" fill="#0a0a0a" stroke="#0a0a0a" stroke-width="0.12" textLength="41.0" lengthAdjust="spacingAndGlyphs">0.0030±0.0010</text>
<text x="387.93" y="476.69" font-size="7.4" text-anchor="middle" fill="#0a0a0a" stroke="#0a0a0a" stroke-width="0.12" textLength="41.0" lengthAdjust="spacingAndGlyphs">0.0130±0.0027</text>
<text x="434.55" y="476.69" font-size="7.4" text-anchor="middle" fill="#0a0a0a" stroke="#0a0a0a" stroke-width="0.12" textLength="41.0" lengthAdjust="spacingAndGlyphs">0.0039±0.0016</text>
<text x="481.17" y="476.69" font-size="7.4" text-anchor="middle" fill="#0a0a0a" stroke="#0a0a0a" stroke-width="0.12" textLength="41.0" lengthAdjust="spacingAndGlyphs">0.0004±0.0004</text>
<text x="527.79" y="476.69" font-size="7.4" text-anchor="middle" fill="#0a0a0a" stroke="#0a0a0a" stroke-width="0.12" textLength="41.0" lengthAdjust="spacingAndGlyphs">0.9796±0.0031</text>
<circle cx="497" cy="313.2" r="1.1" fill="#fff"/>
<line x1="339.71" y1="280.60" x2="339.71" y2="282.30" stroke="#3a4a55" stroke-width="0.6"/>
<line x1="339.71" y1="494.70" x2="339.71" y2="493.00" stroke="#3a4a55" stroke-width="0.6"/>
<line x1="316.90" y1="301.61" x2="318.60" y2="301.61" stroke="#3a4a55" stroke-width="0.6"/>
<line x1="549.00" y1="301.61" x2="547.30" y2="301.61" stroke="#3a4a55" stroke-width="0.6"/>
<line x1="386.33" y1="280.60" x2="386.33" y2="282.30" stroke="#3a4a55" stroke-width="0.6"/>
<line x1="386.33" y1="494.70" x2="386.33" y2="493.00" stroke="#3a4a55" stroke-width="0.6"/>
<line x1="316.90" y1="344.63" x2="318.60" y2="344.63" stroke="#3a4a55" stroke-width="0.6"/>
<line x1="549.00" y1="344.63" x2="547.30" y2="344.63" stroke="#3a4a55" stroke-width="0.6"/>
<line x1="432.95" y1="280.60" x2="432.95" y2="282.30" stroke="#3a4a55" stroke-width="0.6"/>
<line x1="432.95" y1="494.70" x2="432.95" y2="493.00" stroke="#3a4a55" stroke-width="0.6"/>
<line x1="316.90" y1="387.65" x2="318.60" y2="387.65" stroke="#3a4a55" stroke-width="0.6"/>
<line x1="549.00" y1="387.65" x2="547.30" y2="387.65" stroke="#3a4a55" stroke-width="0.6"/>
<line x1="479.57" y1="280.60" x2="479.57" y2="282.30" stroke="#3a4a55" stroke-width="0.6"/>
<line x1="479.57" y1="494.70" x2="479.57" y2="493.00" stroke="#3a4a55" stroke-width="0.6"/>
<line x1="316.90" y1="430.67" x2="318.60" y2="430.67" stroke="#3a4a55" stroke-width="0.6"/>
<line x1="549.00" y1="430.67" x2="547.30" y2="430.67" stroke="#3a4a55" stroke-width="0.6"/>
<line x1="526.19" y1="280.60" x2="526.19" y2="282.30" stroke="#3a4a55" stroke-width="0.6"/>
<line x1="526.19" y1="494.70" x2="526.19" y2="493.00" stroke="#3a4a55" stroke-width="0.6"/>
<line x1="316.90" y1="473.69" x2="318.60" y2="473.69" stroke="#3a4a55" stroke-width="0.6"/>
<line x1="549.00" y1="473.69" x2="547.30" y2="473.69" stroke="#3a4a55" stroke-width="0.6"/>
<text x="315.80" y="305.91" font-size="8.9" text-anchor="end" font-weight="bold" fill="#1a1a1a" stroke="#1a1a1a" stroke-width="0.3" textLength="6.36" lengthAdjust="spacingAndGlyphs" >A</text>
<text x="315.80" y="348.93" font-size="8.9" text-anchor="end" font-weight="bold" fill="#1a1a1a" stroke="#1a1a1a" stroke-width="0.3" textLength="5.87" lengthAdjust="spacingAndGlyphs" >B</text>
<text x="315.80" y="391.95" font-size="8.9" text-anchor="end" font-weight="bold" fill="#1a1a1a" stroke="#1a1a1a" stroke-width="0.3" textLength="6.36" lengthAdjust="spacingAndGlyphs" >C</text>
<text x="315.80" y="434.97" font-size="8.9" text-anchor="end" font-weight="bold" fill="#1a1a1a" stroke="#1a1a1a" stroke-width="0.3" textLength="6.36" lengthAdjust="spacingAndGlyphs" >D</text>
<text x="315.80" y="477.99" font-size="8.9" text-anchor="end" font-weight="bold" fill="#1a1a1a" stroke="#1a1a1a" stroke-width="0.3" textLength="5.87" lengthAdjust="spacingAndGlyphs" >E</text>
<text x="341.41" y="505.90" font-size="8.5" text-anchor="middle" font-weight="bold" fill="#1a1a1a" stroke="#1a1a1a" stroke-width="0.3" textLength="6.21" lengthAdjust="spacingAndGlyphs" >A</text>
<text x="388.03" y="505.90" font-size="8.5" text-anchor="middle" font-weight="bold" fill="#1a1a1a" stroke="#1a1a1a" stroke-width="0.3" textLength="5.74" lengthAdjust="spacingAndGlyphs" >B</text>
<text x="434.65" y="505.90" font-size="8.5" text-anchor="middle" font-weight="bold" fill="#1a1a1a" stroke="#1a1a1a" stroke-width="0.3" textLength="6.21" lengthAdjust="spacingAndGlyphs" >C</text>
<text x="481.27" y="505.90" font-size="8.5" text-anchor="middle" font-weight="bold" fill="#1a1a1a" stroke="#1a1a1a" stroke-width="0.3" textLength="6.21" lengthAdjust="spacingAndGlyphs" >D</text>
<text x="527.89" y="505.90" font-size="8.5" text-anchor="middle" font-weight="bold" fill="#1a1a1a" stroke="#1a1a1a" stroke-width="0.3" textLength="5.74" lengthAdjust="spacingAndGlyphs" >E</text>
<defs><linearGradient id="cb" x1="0" y1="1" x2="0" y2="0"><stop offset="0.0" stop-color="#106fbe"/><stop offset="0.1" stop-color="#147ec4"/><stop offset="0.2" stop-color="#188cc4"/><stop offset="0.3" stop-color="#1898be"/><stop offset="0.4" stop-color="#14a5b2"/><stop offset="0.5" stop-color="#16b0a4"/><stop offset="0.6" stop-color="#2cb996"/><stop offset="0.7" stop-color="#3cbd91"/><stop offset="0.8" stop-color="#44be8c"/><stop offset="0.9" stop-color="#58bf84"/><stop offset="1.0" stop-color="#64c17c"/></linearGradient></defs>
<rect x="553.3" y="280.1" width="7.80" height="215.10" fill="url(#cb)" stroke="#8a8a8a" stroke-width="0.8"/>
<line x1="559.30" y1="473.24" x2="561.10" y2="473.24" stroke="#3d5050" stroke-width="0.7"/>
<line x1="559.30" y1="451.28" x2="561.10" y2="451.28" stroke="#3d5050" stroke-width="0.7"/>
<line x1="559.30" y1="429.33" x2="561.10" y2="429.33" stroke="#3d5050" stroke-width="0.7"/>
<line x1="559.30" y1="407.37" x2="561.10" y2="407.37" stroke="#3d5050" stroke-width="0.7"/>
<line x1="559.30" y1="385.41" x2="561.10" y2="385.41" stroke="#3d5050" stroke-width="0.7"/>
<line x1="559.30" y1="363.45" x2="561.10" y2="363.45" stroke="#3d5050" stroke-width="0.7"/>
<line x1="559.30" y1="341.49" x2="561.10" y2="341.49" stroke="#3d5050" stroke-width="0.7"/>
<line x1="559.30" y1="319.54" x2="561.10" y2="319.54" stroke="#3d5050" stroke-width="0.7"/>
<line x1="559.30" y1="297.58" x2="561.10" y2="297.58" stroke="#3d5050" stroke-width="0.7"/>
<text x="566.20" y="497.80" font-size="7.1" text-anchor="start" font-weight="bold" fill="#262626" stroke="#262626" stroke-width="0.25" textLength="3.20" lengthAdjust="spacingAndGlyphs" >0</text>
<text x="566.20" y="453.88" font-size="7.1" text-anchor="start" font-weight="bold" fill="#262626" stroke="#262626" stroke-width="0.25" textLength="8.00" lengthAdjust="spacingAndGlyphs" >0.2</text>
<text x="566.20" y="409.97" font-size="7.1" text-anchor="start" font-weight="bold" fill="#262626" stroke="#262626" stroke-width="0.25" textLength="8.00" lengthAdjust="spacingAndGlyphs" >0.4</text>
<text x="566.20" y="366.05" font-size="7.1" text-anchor="start" font-weight="bold" fill="#262626" stroke="#262626" stroke-width="0.25" textLength="8.00" lengthAdjust="spacingAndGlyphs" >0.6</text>
<text x="566.20" y="322.14" font-size="7.1" text-anchor="start" font-weight="bold" fill="#262626" stroke="#262626" stroke-width="0.25" textLength="8.00" lengthAdjust="spacingAndGlyphs" >0.8</text>
<text x="566.20" y="284.40" font-size="7.1" text-anchor="start" font-weight="bold" fill="#262626" stroke="#262626" stroke-width="0.25" textLength="8.00" lengthAdjust="spacingAndGlyphs" >1.0</text>
<text x="438.50" y="275.90" font-size="13.9" text-anchor="middle" font-weight="bold" fill="#111" stroke="#111" stroke-width="0.35" textLength="255.00" lengthAdjust="spacingAndGlyphs" >Confusion Matrix for Epilepsy EEG Dataset</text>
<text x="450.20" y="518.60" font-size="11.2" text-anchor="middle" font-weight="bold" fill="#111" stroke="#111" stroke-width="0.2" textLength="13.81" lengthAdjust="spacingAndGlyphs" >(d)</text>
</svg>
</body></html>
